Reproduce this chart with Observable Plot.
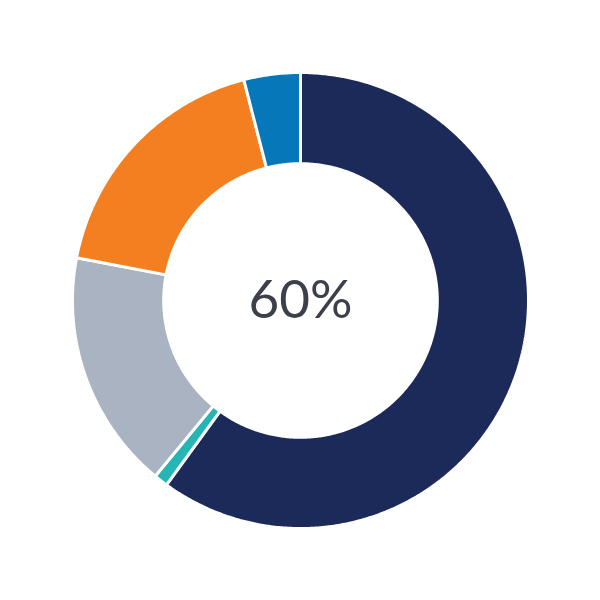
<!DOCTYPE html>
<html>
<head>
<meta charset="utf-8">
<script src="https://cdn.jsdelivr.net/npm/d3@7"></script>
<script src="https://cdn.jsdelivr.net/npm/@observablehq/plot@0.6"></script>
<style>
  html, body { margin: 0; padding: 0; background: #fff; }
  #chart { width: 600px; height: 600px; }
</style>
</head>
<body>
<div id="chart"></div>
<script>
const categories = ["Segment A", "Segment B", "Segment C", "Segment D", "Segment E"];
const values = [60, 1, 17, 18, 4];
const colors = ["#1c2a5a", "#25b5b4", "#a9b3c1", "#f37f21", "#0677b8"];
const centerLabel = "60%";

const outerR = 1;
const innerR = 0.6;
const gapStroke = 3;

const total = d3.sum(values);
const pts = [];
let acc = 0;
categories.forEach((name, i) => {
  const a0 = (acc / total) * 2 * Math.PI;
  acc += values[i];
  const a1 = (acc / total) * 2 * Math.PI;
  const n = Math.max(4, Math.ceil((a1 - a0) / 0.01));
  for (let k = 0; k <= n; k++) {
    const a = a0 + (a1 - a0) * k / n;
    pts.push({name, x: outerR * Math.sin(a), y: outerR * Math.cos(a)});
  }
  for (let k = n; k >= 0; k--) {
    const a = a0 + (a1 - a0) * k / n;
    pts.push({name, x: innerR * Math.sin(a), y: innerR * Math.cos(a)});
  }
});

const ext = 300 / 228;
const chart = Plot.plot({
  width: 600,
  height: 600,
  margin: 0,
  x: {domain: [-ext, ext], axis: null},
  y: {domain: [-ext, ext], axis: null},
  color: {type: "ordinal", domain: categories, range: colors},
  marks: [
    Plot.line(pts, {x: "x", y: "y", z: "name", fill: "name", stroke: "white", strokeWidth: gapStroke, curve: "linear-closed", strokeLinejoin: "miter"}),
    Plot.text([centerLabel], {x: () => 0, y: () => 0, text: d => d, fontSize: 53, fill: "#3b404b", fontFamily: "Lato", fontWeight: 400, textAnchor: "middle", dy: 1})
  ]
});
document.getElementById("chart").appendChild(chart);
</script>
</body>
</html>
